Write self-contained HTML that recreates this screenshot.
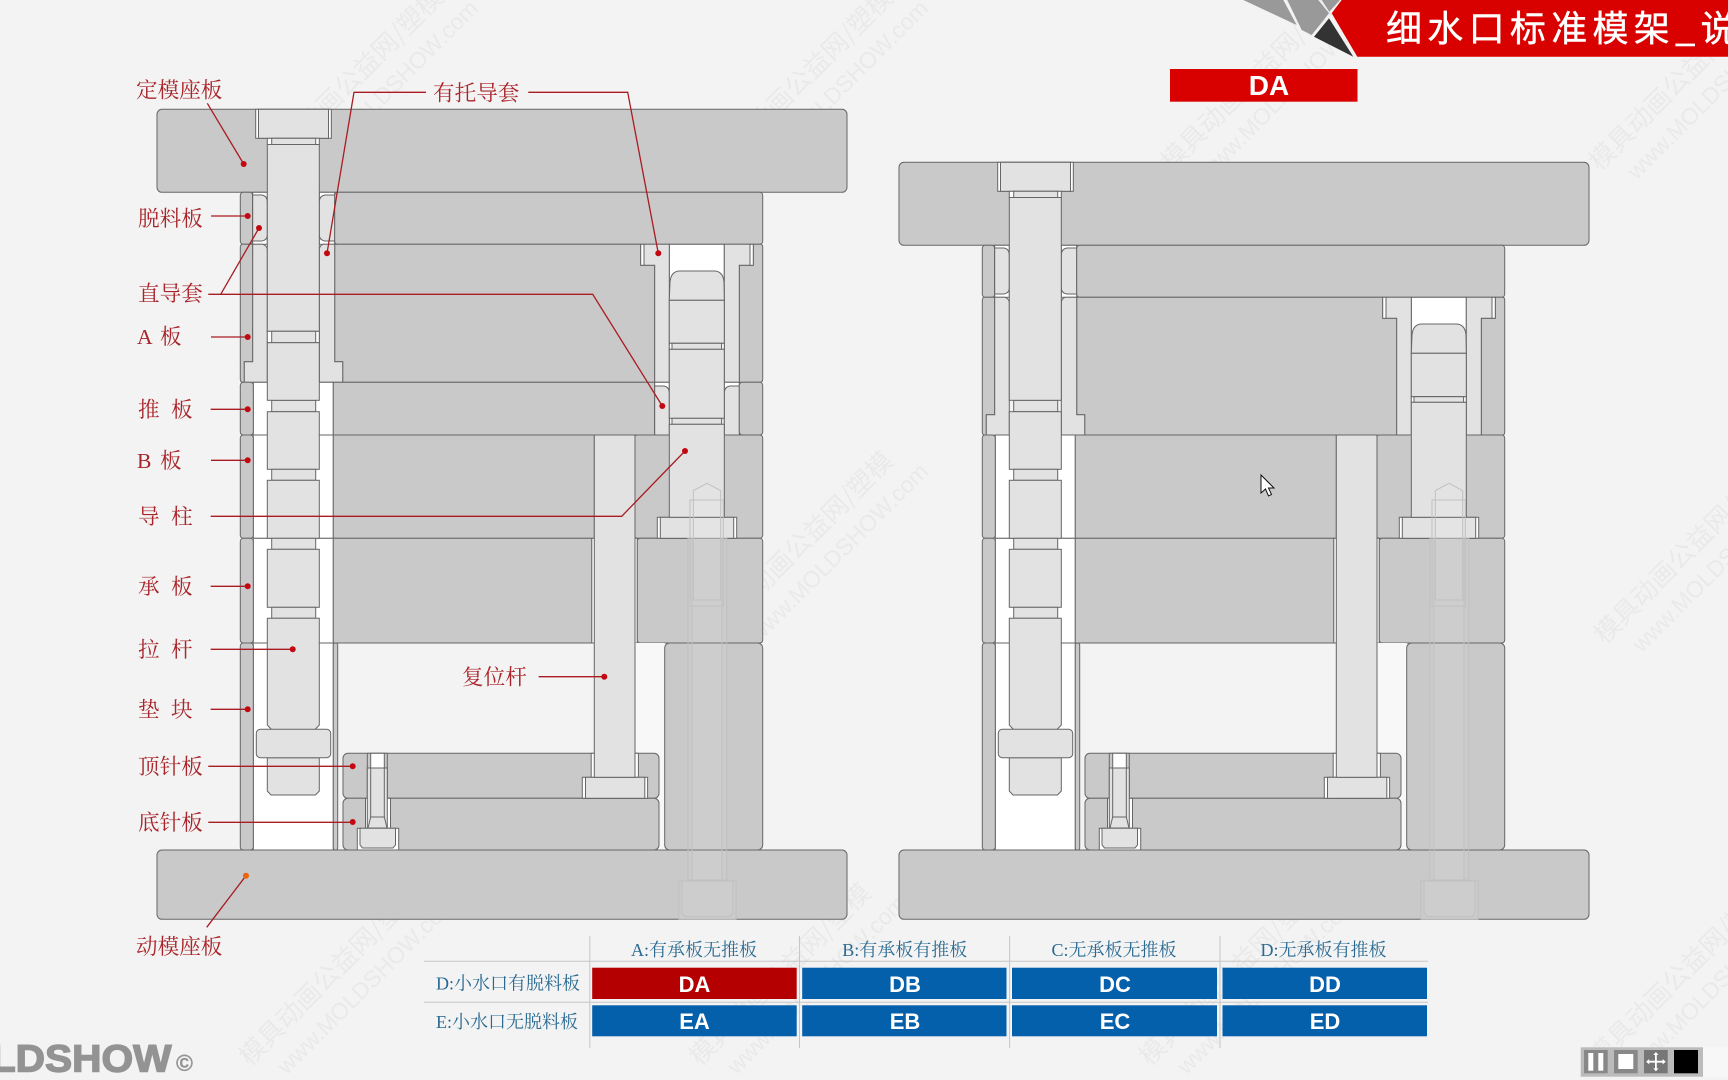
<!DOCTYPE html>
<html><head><meta charset="utf-8"><title>细水口标准模架</title>
<style>
html,body{margin:0;padding:0;width:1728px;height:1080px;overflow:hidden;background:#f3f3f3}
svg{display:block}
.p{fill:#c9c9c9;stroke:#666;stroke-width:1}
.l{fill:#e2e2e2;stroke:#666;stroke-width:1}
.w{fill:#fff;stroke:#666;stroke-width:1}
.t{font-family:"Liberation Serif","Noto Serif CJK SC",serif;font-size:21.6px;fill:#a8252b}
.h{font-family:"Liberation Serif","Noto Serif CJK SC",serif;font-size:18px;fill:#2a6a92}
.b{font-family:"Liberation Sans",sans-serif;font-weight:700;font-size:22px;fill:#fff;text-anchor:middle}
.ld{fill:none;stroke:#a81c22;stroke-width:1.3}
.d{fill:#c40812}
.g{fill:rgba(255,255,255,.04);stroke:#c0c0c0;stroke-width:1}
.wm1{font-family:"Noto Sans CJK SC",sans-serif;font-size:26px;fill:#777;opacity:.07}
.wm2{font-family:"Liberation Sans",sans-serif;font-size:23px;fill:#777;opacity:.07}
</style></head><body>
<svg width="1728" height="1080" viewBox="0 0 1728 1080" xmlns="http://www.w3.org/2000/svg">
<defs>
<g id="U">
  <rect class="p" x="157" y="109.3" width="690" height="83" rx="5"/>
  <rect class="w" x="255.7" y="109.3" width="75.6" height="29"/>
  <rect class="l" x="258.5" y="109.3" width="70" height="29"/>
  <rect class="w" x="267.3" y="138.3" width="52" height="6.2"/>
  <rect class="l" x="271.7" y="138.3" width="44" height="6.2"/>
  <rect class="p" x="240.3" y="192.3" width="12.4" height="52" rx="3"/>
  <rect class="w" x="252.7" y="192.3" width="14.6" height="52"/>
  <rect class="w" x="319.3" y="192.3" width="15.4" height="52"/>
  <path class="l" d="M252.7 195H262Q267.3 196 267.3 202V235Q267.3 240 262 241H252.7Z"/>
  <path class="l" d="M334.7 195H325Q319.3 196 319.3 202V235Q319.3 240 325 241H334.7Z"/>
  <rect class="p" x="334.7" y="192.3" width="428" height="52" rx="3"/>
  <path class="p" d="M243 244.3H252.7V361.7H244.3V382.3H243Q240.3 382.3 240.3 379V247.5Q240.3 244.3 243 244.3Z"/>
  <path class="p" d="M334.7 244.3H640.7V265.3H654.7V382.3H342.7V361.7H334.7Z"/>
  <path class="p" d="M753.3 244.3H760Q762.7 244.3 762.7 247V379Q762.7 382.3 760 382.3H739.3V265.3H753.3Z"/>
  <path class="l" d="M252.7 244.3H263Q267.3 246 267.3 250V382.3H244.3V361.7H252.7Z"/>
  <path class="l" d="M334.7 244.3H323Q319.3 246 319.3 250V382.3H342.7V361.7H334.7Z"/>
  <rect class="w" x="669.3" y="244.3" width="55" height="138"/>
  <rect class="w" x="640.7" y="244.3" width="3.3" height="21"/>
  <rect class="w" x="750" y="244.3" width="3.3" height="21"/>
  <path class="l" d="M644 244.3H669.3V382.3H654.7V265.3H644Z"/>
  <path class="l" d="M750 244.3H724.3V382.3H739.3V265.3H750Z"/>
</g>
<g id="L">
  <rect class="w" x="253.3" y="435" width="80" height="103.3"/>
  <rect class="w" x="253.3" y="538.3" width="80" height="104.7"/>
  <rect class="w" x="253.3" y="643" width="80" height="207"/>
  <rect class="p" x="240.3" y="435" width="13" height="103.3" rx="3"/>
  <rect class="p" x="240.3" y="538.3" width="13" height="104.7" rx="3"/>
  <rect class="p" x="240.3" y="643" width="13" height="207" rx="3"/>
  <rect class="p" x="333.3" y="435" width="261" height="103.3"/>
  <rect class="p" x="634.3" y="435" width="128.4" height="103.3" rx="3"/>
  <rect class="w" x="591.7" y="538.3" width="45.6" height="104.7"/>
  <rect class="p" x="333.3" y="538.3" width="258.4" height="104.7"/>
  <rect class="p" x="637.3" y="538.3" width="125.4" height="104.7" rx="3"/>
  <rect class="p" x="333.3" y="643" width="4.4" height="207" rx="2"/>
  <rect x="635.5" y="643" width="29.2" height="207" fill="#f8f8f8"/>
  <rect class="p" x="664.7" y="643" width="98" height="207" rx="5"/>
  <rect class="p" x="343" y="753.3" width="316" height="45" rx="5"/>
  <rect class="p" x="343" y="798.3" width="316" height="51.7" rx="5"/>
  <rect class="w" x="591.2" y="753.3" width="47.2" height="45"/>
  <rect class="w" x="582.3" y="777.3" width="65.3" height="21"/>
  <rect class="l" x="585.5" y="777.3" width="59.3" height="21"/>
  <rect class="l" x="594.3" y="435" width="40.7" height="342.3"/>
  <rect class="p" x="367.3" y="753.3" width="20" height="45"/>
  <rect class="w" x="370.7" y="753.3" width="13.6" height="16"/>
  <rect class="w" x="365.5" y="798.3" width="25" height="30"/>
  <rect class="l" x="367.3" y="768" width="20" height="60"/>
  <rect class="l" x="370.7" y="768" width="13.6" height="49"/>
  <path class="l" d="M370.7 817H384.3L387 828H368Z"/>
  <rect class="w" x="357.3" y="828.3" width="41.4" height="21.7"/>
  <path class="l" d="M360 828.3H395.5V845L393 848H362.5L360 845Z"/>
  <rect class="w" x="657.3" y="517.3" width="79.4" height="21"/>
  <rect class="l" x="660.3" y="517.3" width="73.4" height="21"/>
  <rect class="p" x="157" y="850" width="690" height="69.3" rx="5"/>
  <rect class="l" x="271.7" y="400.3" width="44" height="11.4"/>
  <rect class="l" x="267.3" y="411.7" width="52" height="57.6"/>
  <rect class="l" x="271.7" y="469.3" width="44" height="11"/>
  <rect class="l" x="267.3" y="480.3" width="52" height="58"/>
  <rect class="l" x="271.7" y="538.3" width="44" height="11"/>
  <rect class="l" x="267.3" y="549.3" width="52" height="58"/>
  <rect class="l" x="271.7" y="607.3" width="44" height="11"/>
  <path class="l" d="M267.3 618.3H319.3V725L315 729.5H271.5L267.3 725Z"/>
  <path class="l" d="M267.3 757.7H319.3V791L315.5 795H271L267.3 791Z"/>
  <rect class="l" x="256.3" y="729.3" width="74.4" height="28.4" rx="4"/>
</g>
<g id="G">
  <rect class="g" x="688" y="538" width="38.7" height="342"/>
  <rect class="g" x="692" y="538" width="30" height="342"/>
  <rect class="g" x="679" y="881" width="57" height="38"/>
  <path class="g" d="M682 881H733V913L730 916.5H685L682 913Z"/>
  <rect class="g" x="690" y="500" width="33.3" height="106"/>
  <path class="g" d="M693.3 490.7L707 483.3L720.7 490.7V600H693.3Z"/>
</g>
<path id="tip" class="l" d="M669.3 300.3L670 282Q671 271 680 271H714Q723 271 724 282L724.3 300.3Z"/>
</defs>

<!-- watermarks sit under the diagram -->
<g>
<g transform="translate(272,172) rotate(-45)"><text class="wm1">模具动画公益网/塑模</text><text class="wm2" x="20" y="32">www.MOLDSHOW.com</text></g>
<g transform="translate(722,172) rotate(-45)"><text class="wm1">模具动画公益网/塑模</text><text class="wm2" x="20" y="32">www.MOLDSHOW.com</text></g>
<g transform="translate(1172,172) rotate(-45)"><text class="wm1">模具动画公益网/塑模</text><text class="wm2" x="20" y="32">www.MOLDSHOW.com</text></g>
<g transform="translate(1600,172) rotate(-45)"><text class="wm1">模具动画公益网/塑模</text><text class="wm2" x="20" y="32">www.MOLDSHOW.com</text></g>
<g transform="translate(722,635) rotate(-45)"><text class="wm1">模具动画公益网/塑模</text><text class="wm2" x="20" y="32">www.MOLDSHOW.com</text></g>
<g transform="translate(1605,645) rotate(-45)"><text class="wm1">模具动画公益网/塑模</text><text class="wm2" x="20" y="32">www.MOLDSHOW.com</text></g>
<g transform="translate(250,1067) rotate(-45)"><text class="wm1">模具动画公益网/塑模</text><text class="wm2" x="20" y="32">www.MOLDSHOW.com</text></g>
<g transform="translate(700,1067) rotate(-45)"><text class="wm1">模具动画公益网/塑模</text><text class="wm2" x="20" y="32">www.MOLDSHOW.com</text></g>
<g transform="translate(1150,1067) rotate(-45)"><text class="wm1">模具动画公益网/塑模</text><text class="wm2" x="20" y="32">www.MOLDSHOW.com</text></g>
<g transform="translate(1600,1067) rotate(-45)"><text class="wm1">模具动画公益网/塑模</text><text class="wm2" x="20" y="32">www.MOLDSHOW.com</text></g>
</g>

<!-- left mold -->
<use href="#U"/>
<g>
  <rect class="w" x="253.3" y="382.3" width="80" height="52.7"/>
  <rect class="p" x="240.3" y="382.3" width="13" height="52.7" rx="3"/>
  <rect class="p" x="333.3" y="382.3" width="321.4" height="52.7"/>
  <rect class="w" x="654.7" y="382.3" width="14.6" height="52.7"/>
  <rect class="w" x="724.3" y="382.3" width="15" height="52.7"/>
  <path class="l" d="M654.7 386H664Q669.3 387 669.3 393V435H654.7Z"/>
  <path class="l" d="M739.3 386H730Q724.3 387 724.3 393V435H739.3Z"/>
  <rect class="p" x="739.3" y="382.3" width="23.4" height="52.7" rx="3"/>
</g>
<use href="#L"/>
<rect class="l" x="267.3" y="144.5" width="52" height="186.8"/>
<rect class="w" x="267.3" y="331.3" width="52" height="11.4"/>
<rect class="l" x="271.7" y="331.3" width="44" height="11.4"/>
<rect class="l" x="267.3" y="342.7" width="52" height="57.6"/>
<use href="#tip"/>
<rect class="l" x="669.3" y="300.3" width="55" height="43"/>
<rect class="w" x="669.3" y="343.3" width="55" height="6"/>
<rect class="l" x="672" y="343.3" width="49.6" height="6"/>
<rect class="l" x="669.3" y="349.3" width="55" height="69"/>
<rect class="l" x="672" y="418.3" width="49.6" height="6"/>
<rect class="l" x="669.3" y="424.3" width="55" height="93"/>
<use href="#G"/>

<!-- right mold -->
<use href="#U" transform="translate(742,53)"/>
<g transform="translate(742,0)">
  <use href="#L"/>
  <rect class="l" x="267.3" y="197.5" width="52" height="202.8"/>
  <use href="#tip" transform="translate(0,53)"/>
  <rect class="l" x="669.3" y="353.3" width="55" height="43.4"/>
  <rect class="w" x="669.3" y="396.7" width="55" height="5.6"/>
  <rect class="l" x="672" y="396.7" width="49.6" height="5.6"/>
  <rect class="l" x="669.3" y="402.3" width="55" height="115"/>
  <use href="#G"/>
</g>
<path d="M1261 475V493L1265.5 489L1268.5 496L1271.5 494.5L1268.5 488H1274Z" fill="#fff" stroke="#111" stroke-width="1"/>

<!-- leaders -->
<path class="ld" d="M207.3 103.3L243.7 164"/>
<path class="ld" d="M426 92.3H354L327 253.3"/>
<path class="ld" d="M528.3 92.3H627.7L658.3 253.3"/>
<path class="ld" d="M211 216H247.7"/>
<path class="ld" d="M208.3 294.3H592.7L662.3 406"/>
<path class="ld" d="M220.7 294.3L259 228"/>
<path class="ld" d="M211 337H247.7"/>
<path class="ld" d="M210.7 409.3H247.7"/>
<path class="ld" d="M211 460.3H247.7"/>
<path class="ld" d="M210.7 516.3H621.7L685 451"/>
<path class="ld" d="M210.7 586.3H247.7"/>
<path class="ld" d="M210.7 649.3H292.7"/>
<path class="ld" d="M210.7 709.3H247.7"/>
<path class="ld" d="M208.3 766.3H352.7"/>
<path class="ld" d="M208.3 822.3H352.7"/>
<path class="ld" d="M206.7 927.3L246 875.7"/>
<path class="ld" d="M538.7 676.7H604.3"/>
<g class="d">
<circle cx="243.7" cy="164" r="3"/><circle cx="327" cy="253.3" r="3"/><circle cx="658.3" cy="253.3" r="3"/>
<circle cx="247.7" cy="216" r="3"/><circle cx="662.3" cy="406" r="3"/><circle cx="259" cy="228" r="3"/>
<circle cx="247.7" cy="337" r="3"/><circle cx="247.7" cy="409.3" r="3"/><circle cx="247.7" cy="460.3" r="3"/>
<circle cx="685" cy="451" r="3"/><circle cx="247.7" cy="586.3" r="3"/><circle cx="292.7" cy="649.3" r="3"/>
<circle cx="247.7" cy="709.3" r="3"/><circle cx="352.7" cy="766.3" r="3"/><circle cx="352.7" cy="822" r="3"/>
<circle cx="604.3" cy="676.7" r="3"/>
</g>
<circle cx="246" cy="875.7" r="3" fill="#e8660c"/>

<!-- labels -->
<text class="t" x="136" y="97.5">定模座板</text>
<text class="t" x="433" y="100.5">有托导套</text>
<text class="t" x="138" y="226">脱料板</text>
<text class="t" x="138" y="301">直导套</text>
<text class="t" x="137" y="344">A</text><text class="t" x="160" y="344">板</text>
<text class="t" x="138" y="417">推</text><text class="t" x="171" y="417">板</text>
<text class="t" x="137" y="468">B</text><text class="t" x="160" y="468">板</text>
<text class="t" x="138" y="524">导</text><text class="t" x="171" y="524">柱</text>
<text class="t" x="138" y="594">承</text><text class="t" x="171" y="594">板</text>
<text class="t" x="138" y="657">拉</text><text class="t" x="171" y="657">杆</text>
<text class="t" x="138" y="717">垫</text><text class="t" x="171" y="717">块</text>
<text class="t" x="138" y="774">顶针板</text>
<text class="t" x="138" y="830">底针板</text>
<text class="t" x="136" y="954">动模座板</text>
<text class="t" x="462" y="684.5">复位杆</text>

<!-- table -->
<g stroke="#c6c6c6" stroke-width="1">
<path d="M589.8 936V1048M799.5 936V1048M1009.6 936V1048M1220 936V1048"/>
<path d="M424 961.3H1428M424 1002.3H1428"/>
</g>
<text class="h" x="694" y="956" text-anchor="middle">A:有承板无推板</text>
<text class="h" x="904.7" y="956" text-anchor="middle">B:有承板有推板</text>
<text class="h" x="1114" y="956" text-anchor="middle">C:无承板无推板</text>
<text class="h" x="1323.5" y="956" text-anchor="middle">D:无承板有推板</text>
<text class="h" x="436" y="989.5">D:小水口有脱料板</text>
<text class="h" x="436" y="1028">E:小水口无脱料板</text>
<rect x="592.2" y="967.7" width="204.5" height="31.3" fill="#b40000"/>
<rect x="802.2" y="967.7" width="204.3" height="31.3" fill="#0560ac"/>
<rect x="1012" y="967.7" width="205" height="31.3" fill="#0560ac"/>
<rect x="1222.5" y="967.7" width="204.5" height="31.3" fill="#0560ac"/>
<rect x="592.2" y="1005.3" width="204.5" height="31" fill="#0560ac"/>
<rect x="802.2" y="1005.3" width="204.3" height="31" fill="#0560ac"/>
<rect x="1012" y="1005.3" width="205" height="31" fill="#0560ac"/>
<rect x="1222.5" y="1005.3" width="204.5" height="31" fill="#0560ac"/>
<text class="b" x="694.5" y="992">DA</text><text class="b" x="905" y="992">DB</text><text class="b" x="1115" y="992">DC</text><text class="b" x="1325" y="992">DD</text>
<text class="b" x="694.5" y="1029">EA</text><text class="b" x="905" y="1029">EB</text><text class="b" x="1115" y="1029">EC</text><text class="b" x="1325" y="1029">ED</text>

<!-- header -->
<path d="M1243.3 0H1283.3L1296.7 25Z" fill="#999"/>
<path d="M1287.3 0H1318.3L1329 13.3L1311.7 35L1301.7 30Z" fill="#999"/>
<path d="M1321.7 0H1340L1329.3 11.7Z" fill="#999"/>
<path d="M1329 18.3L1314 36.7L1353.3 56.7Z" fill="#333"/>
<path d="M1341.7 0L1331.7 13.3L1357.3 56.7H1728V0Z" fill="#d90000"/>
<text x="1386" y="41" font-family="'Noto Sans CJK SC',sans-serif" font-size="36" letter-spacing="5.3" fill="#fff" stroke="#fff" stroke-width=".4">细水口标准模架_说明</text>
<rect x="1170" y="69" width="187.5" height="32.7" fill="#d90000"/>
<text x="1269" y="95" font-family="'Liberation Sans',sans-serif" font-weight="700" font-size="28" fill="#fff" text-anchor="middle">DA</text>

<!-- logo -->
<text transform="translate(171.5,1071.5) scale(1.07,1)" font-family="'Liberation Sans',sans-serif" font-weight="700" font-size="38" fill="#939393" stroke="#939393" stroke-width="1.4" text-anchor="end">LDSHOW</text>
<text x="176" y="1071" font-family="'Liberation Sans',sans-serif" font-weight="700" font-size="23" fill="#939393" stroke="#939393" stroke-width=".3">©</text>

<!-- toolbar -->
<rect x="1580.7" y="1047.3" width="122.3" height="29.4" fill="#bbb"/>
<rect x="1703" y="1047.3" width="25" height="29.4" fill="#f7f7f7"/>
<rect x="1584" y="1050" width="23.7" height="23.3" fill="#888"/>
<rect x="1588.3" y="1053" width="5" height="17.7" fill="#fff"/><rect x="1598.3" y="1053" width="5" height="17.7" fill="#fff"/>
<rect x="1614" y="1050" width="23.7" height="23.3" fill="#888"/>
<rect x="1618.3" y="1054" width="15" height="15" fill="#fff"/>
<rect x="1644" y="1050" width="23.7" height="23.3" fill="#777"/>
<path d="M1655.9 1052L1658.5 1055H1656.8V1060.8H1662.6V1059L1665.7 1061.7L1662.6 1064.4V1062.6H1656.8V1068.4H1658.5L1655.9 1071.4L1653.3 1068.4H1655V1062.6H1649.2V1064.4L1646.1 1061.7L1649.2 1059V1060.8H1655V1055H1653.3Z" fill="#fff"/>
<rect x="1674" y="1050" width="24" height="23.3" fill="#000"/>
</svg>
</body></html>
